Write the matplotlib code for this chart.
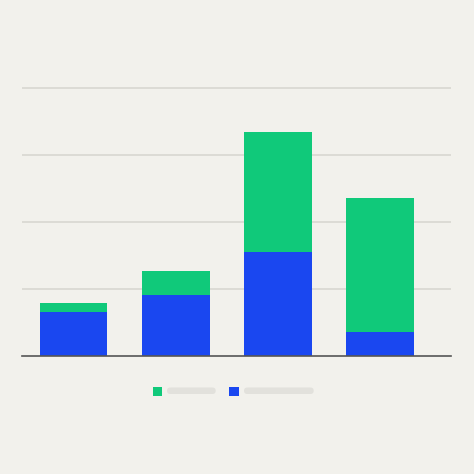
import matplotlib
matplotlib.use('Agg')
import matplotlib.pyplot as plt
from matplotlib.patches import FancyBboxPatch, Rectangle

categories = ['A', 'B', 'C', 'D']
blue_vals = [0.65, 0.91, 1.55, 0.36]
green_vals = [0.14, 0.35, 1.80, 1.99]

bg = '#f2f1ec'
green = '#10c97a'
blue = '#1a47f0'

fig = plt.figure(figsize=(4.74, 4.74), dpi=100, facecolor=bg)
W = H = 474.0
ax = fig.add_axes([22 / W, 1 - 355.7 / H, (450.7 - 22) / W, (355.7 - 60) / H])
ax.set_facecolor(bg)

x = list(range(len(categories)))
ax.bar(x, blue_vals, width=0.66, color=blue, zorder=3)
ax.bar(x, green_vals, width=0.66, bottom=blue_vals, color=green, zorder=3)

ax.set_xlim(-0.505, 3.69)
ax.set_ylim(0, (355.7 - 60) / 66.9)
ax.set_yticks([1, 2, 3, 4])
ax.grid(axis='y', color='#d8d7d1', linewidth=1.2, zorder=0)
ax.tick_params(left=False, bottom=False, labelleft=False, labelbottom=False)
for s in ['top', 'right', 'left']:
    ax.spines[s].set_visible(False)
ax.spines['bottom'].set_color('#555555')
ax.spines['bottom'].set_linewidth(1.2)
ax.spines['bottom'].set_zorder(4)

# legend placeholders (no text in reference)
def fig_box(x0, y0, x1, y1, color, rounded=False):
    if rounded:
        p = FancyBboxPatch((x0 / W, 1 - y1 / H), (x1 - x0) / W, (y1 - y0) / H,
                           boxstyle='round,pad=0,rounding_size=0.007',
                           transform=fig.transFigure, color=color, lw=0)
    else:
        p = Rectangle((x0 / W, 1 - y1 / H), (x1 - x0) / W, (y1 - y0) / H,
                      transform=fig.transFigure, color=color, lw=0)
    fig.patches.append(p)

fig_box(152.7, 386.5, 161.7, 395.5, green)
fig_box(167, 387.5, 215.7, 394, '#e2e1dc', rounded=True)
fig_box(229.3, 386.5, 238.7, 395.5, blue)
fig_box(244, 387.5, 313.7, 394, '#e2e1dc', rounded=True)

fig.savefig('out.png', dpi=100, facecolor=bg)
